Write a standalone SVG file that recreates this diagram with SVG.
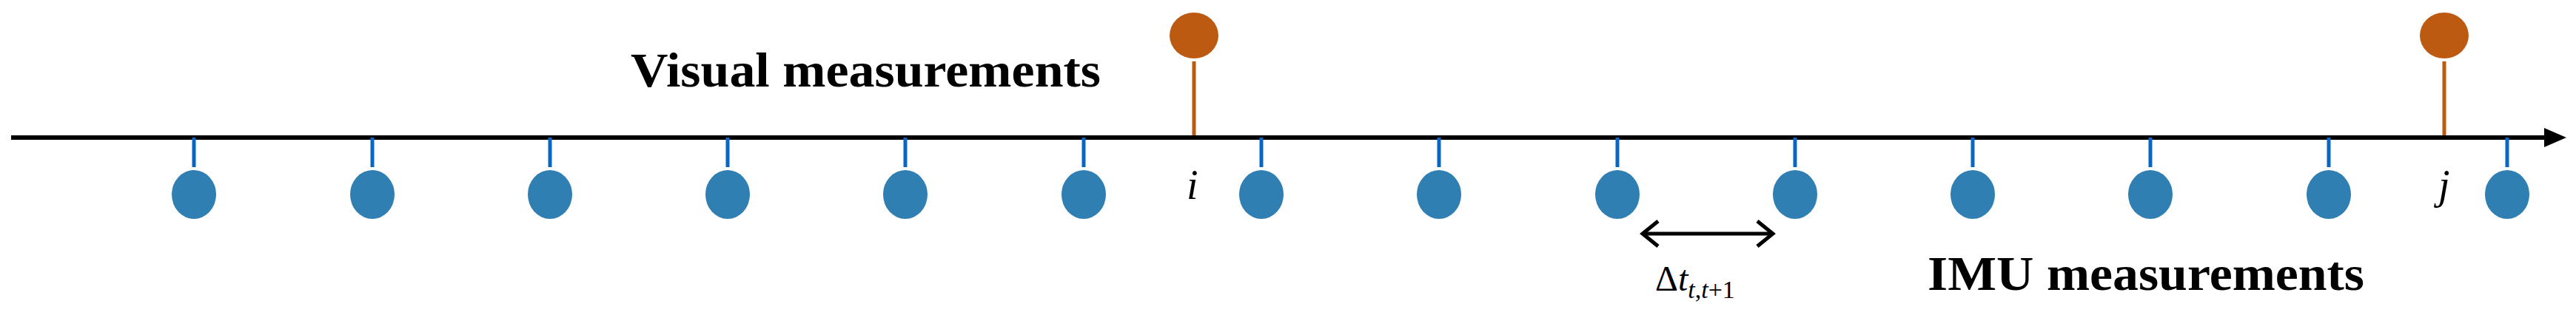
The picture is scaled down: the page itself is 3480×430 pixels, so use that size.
<svg xmlns="http://www.w3.org/2000/svg" width="3480" height="430" viewBox="0 0 3480 430">
<style>
.tick{stroke:#0A66C2;stroke-width:5}
.imu{fill:#2F7FB2}
.vis{fill:#BD5A12}
.vline{stroke:#BD5A12;stroke-width:5}
.lbl{font-family:"Liberation Serif",serif;font-weight:bold;fill:#000}
.it{font-family:"Liberation Serif",serif;font-style:italic;fill:#000}
</style>
<defs>
<marker id="ah" markerWidth="10" markerHeight="10" refX="9" refY="5" orient="auto" markerUnits="userSpaceOnUse">
</marker>
</defs>
<g id="connectors">
<line x1="15" y1="186" x2="3440" y2="186" stroke="#000" stroke-width="6"/>
<polygon points="3437,173 3467,186 3437,199" fill="#000"/>
<line x1="2222" y1="316" x2="2392" y2="316" stroke="#000" stroke-width="5"/>
<polyline points="2240,299 2219,316 2240,333" fill="none" stroke="#000" stroke-width="5"/>
<polyline points="2374,299 2395,316 2374,333" fill="none" stroke="#000" stroke-width="5"/>
</g>
<g id="imu-nodes">
<g id="imu1"><line class="tick" x1="262" y1="186" x2="262" y2="226"/><ellipse class="imu" cx="262" cy="263" rx="30" ry="33"/></g>
<g id="imu2"><line class="tick" x1="503" y1="186" x2="503" y2="226"/><ellipse class="imu" cx="503" cy="263" rx="30" ry="33"/></g>
<g id="imu3"><line class="tick" x1="743" y1="186" x2="743" y2="226"/><ellipse class="imu" cx="743" cy="263" rx="30" ry="33"/></g>
<g id="imu4"><line class="tick" x1="983" y1="186" x2="983" y2="226"/><ellipse class="imu" cx="983" cy="263" rx="30" ry="33"/></g>
<g id="imu5"><line class="tick" x1="1223" y1="186" x2="1223" y2="226"/><ellipse class="imu" cx="1223" cy="263" rx="30" ry="33"/></g>
<g id="imu6"><line class="tick" x1="1464" y1="186" x2="1464" y2="226"/><ellipse class="imu" cx="1464" cy="263" rx="30" ry="33"/></g>
<g id="imu7"><line class="tick" x1="1704" y1="186" x2="1704" y2="226"/><ellipse class="imu" cx="1704" cy="263" rx="30" ry="33"/></g>
<g id="imu8"><line class="tick" x1="1944" y1="186" x2="1944" y2="226"/><ellipse class="imu" cx="1944" cy="263" rx="30" ry="33"/></g>
<g id="imu9"><line class="tick" x1="2185" y1="186" x2="2185" y2="226"/><ellipse class="imu" cx="2185" cy="263" rx="30" ry="33"/></g>
<g id="imu10"><line class="tick" x1="2425" y1="186" x2="2425" y2="226"/><ellipse class="imu" cx="2425" cy="263" rx="30" ry="33"/></g>
<g id="imu11"><line class="tick" x1="2665" y1="186" x2="2665" y2="226"/><ellipse class="imu" cx="2665" cy="263" rx="30" ry="33"/></g>
<g id="imu12"><line class="tick" x1="2905" y1="186" x2="2905" y2="226"/><ellipse class="imu" cx="2905" cy="263" rx="30" ry="33"/></g>
<g id="imu13"><line class="tick" x1="3146" y1="186" x2="3146" y2="226"/><ellipse class="imu" cx="3146" cy="263" rx="30" ry="33"/></g>
<g id="imu14"><line class="tick" x1="3387" y1="186" x2="3387" y2="226"/><ellipse class="imu" cx="3387" cy="263" rx="30" ry="33"/></g>
</g>
<g id="visual-i"><line class="vline" x1="1613" y1="83" x2="1613" y2="183"/><ellipse class="vis" cx="1613" cy="48" rx="33" ry="31"/></g>
<g id="visual-j"><line class="vline" x1="3302" y1="83" x2="3302" y2="183"/><ellipse class="vis" cx="3302" cy="48" rx="33" ry="31"/></g>
<g id="labels">
<text class="lbl" x="852" y="117" font-size="66" textLength="635" lengthAdjust="spacingAndGlyphs">Visual measurements</text>
<text class="lbl" x="2604" y="392" font-size="66" textLength="590" lengthAdjust="spacingAndGlyphs">IMU measurements</text>
<text class="it" x="1603" y="269" font-size="56">i</text>
<text class="it" x="3294" y="269" font-size="56">j</text>
<text x="2236" y="393" font-family="Liberation Serif,serif" font-size="48">Δ<tspan font-style="italic">t</tspan><tspan font-style="italic" font-size="34" dy="10">t</tspan><tspan font-size="34">,</tspan><tspan font-style="italic" font-size="34">t</tspan><tspan font-size="34">+1</tspan></text>
</g>
</svg>
